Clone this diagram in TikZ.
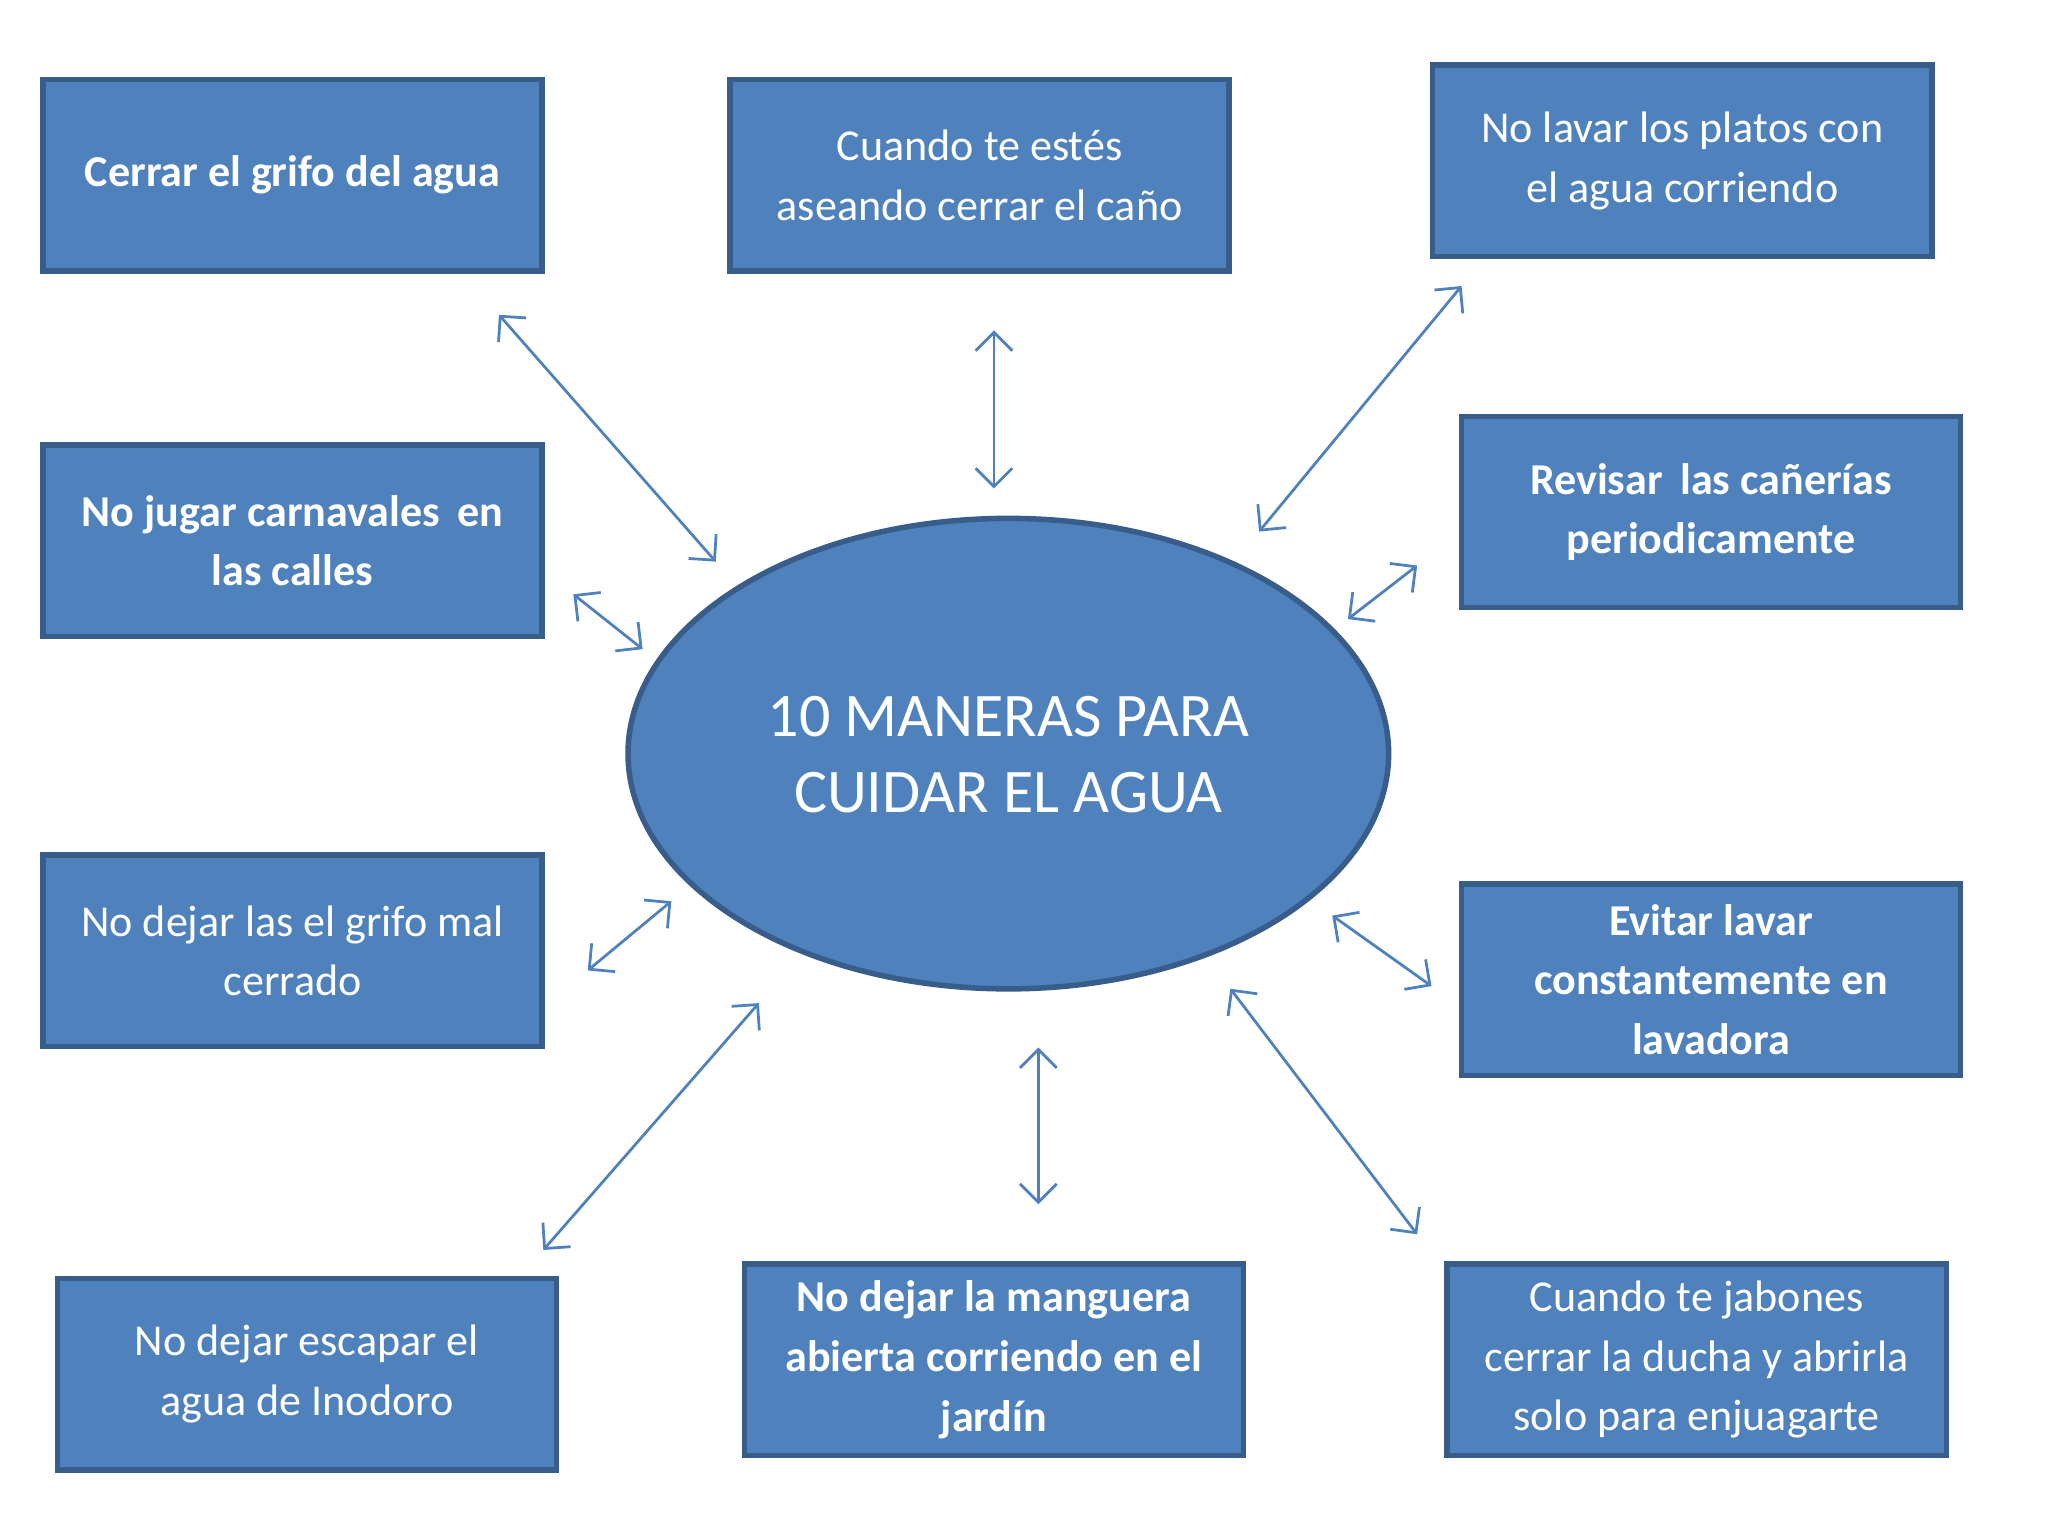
\documentclass[tikz,border=0pt]{standalone}
\usepackage{fontspec}
\setmainfont{Carlito}
\usetikzlibrary{arrows.meta}
\definecolor{boxblue}{RGB}{79,129,189}
\definecolor{edgeblue}{RGB}{56,93,138}
\begin{document}
\begin{tikzpicture}[x=0.01cm,y=-0.01cm]
\tikzset{tip box/.style={draw=edgeblue,line width=1.2pt,fill=boxblue,text=white,align=center,
    minimum width=3.82cm,minimum height=1.465cm,inner sep=0pt,font=\fontsize{9.6}{13}\selectfont},
  bold box/.style={tip box,font=\bfseries\fontsize{9.6}{13}\selectfont},
  link/.style={draw=boxblue,line width=0.6pt,{Straight Barb[length=4pt]}-{Straight Barb[length=4pt]}}}
\useasboundingbox (0,0) rectangle (1568,1176);
\fill[white] (0,0) rectangle (1568,1176);
% centre
\draw[draw=edgeblue,line width=1.2pt,fill=boxblue] (772,577) ellipse [x radius=2.91cm,y radius=1.8cm];
\node[text=white,align=center,font=\fontsize{13.5}{16.5}\selectfont] (mid) at (772,578) {10 MANERAS PARA\\CUIDAR EL AGUA};
% boxes
\node[bold box] (grifo) at (224,134) {Cerrar el grifo del agua};
\node[tip box] (aseo) at (750,134) {Cuando te estés\\aseando cerrar el caño};
\node[tip box] (platos) at (1288,123) {No lavar los platos con\\el agua corriendo};
\node[bold box] (carnaval) at (224,414) {No jugar carnavales\, en\\las calles};
\node[bold box] (caneria) at (1310,392) {Revisar\, las cañerías\\periodicamente};
\node[tip box] (malcerrado) at (224,728) {No dejar las el grifo mal\\cerrado};
\node[bold box] (lavadora) at (1310,750) {Evitar lavar\\constantemente en\\lavadora};
\node[tip box] (inodoro) at (235,1052) {No dejar escapar el\\agua de Inodoro};
\node[bold box] (manguera) at (761,1041) {No dejar la manguera\\abierta corriendo en el\\jardín};
\node[tip box] (ducha) at (1299,1041) {Cuando te jabones\\cerrar la ducha y abrirla\\solo para enjuagarte};
% arrow ends
\coordinate (a1) at (382,241); \coordinate (a2) at (548,430);
\coordinate (b1) at (761,253); \coordinate (b2) at (761,374);
\coordinate (c1) at (1119,219); \coordinate (c2) at (964,407);
\coordinate (d1) at (439,455); \coordinate (d2) at (492,497);
\coordinate (e1) at (1085,433); \coordinate (e2) at (1032,474);
\coordinate (f1) at (514,690); \coordinate (f2) at (450,743);
\coordinate (g1) at (1020,701); \coordinate (g2) at (1096,755);
\coordinate (h1) at (581,768); \coordinate (h2) at (416,957);
\coordinate (i1) at (795,802); \coordinate (i2) at (795,922);
\coordinate (j1) at (942,757); \coordinate (j2) at (1085,945);
\foreach \k in {a,b,c,d,e,f,g,h,i,j}
  \draw[link] (\k1) -- (\k2);
\end{tikzpicture}
\end{document}
